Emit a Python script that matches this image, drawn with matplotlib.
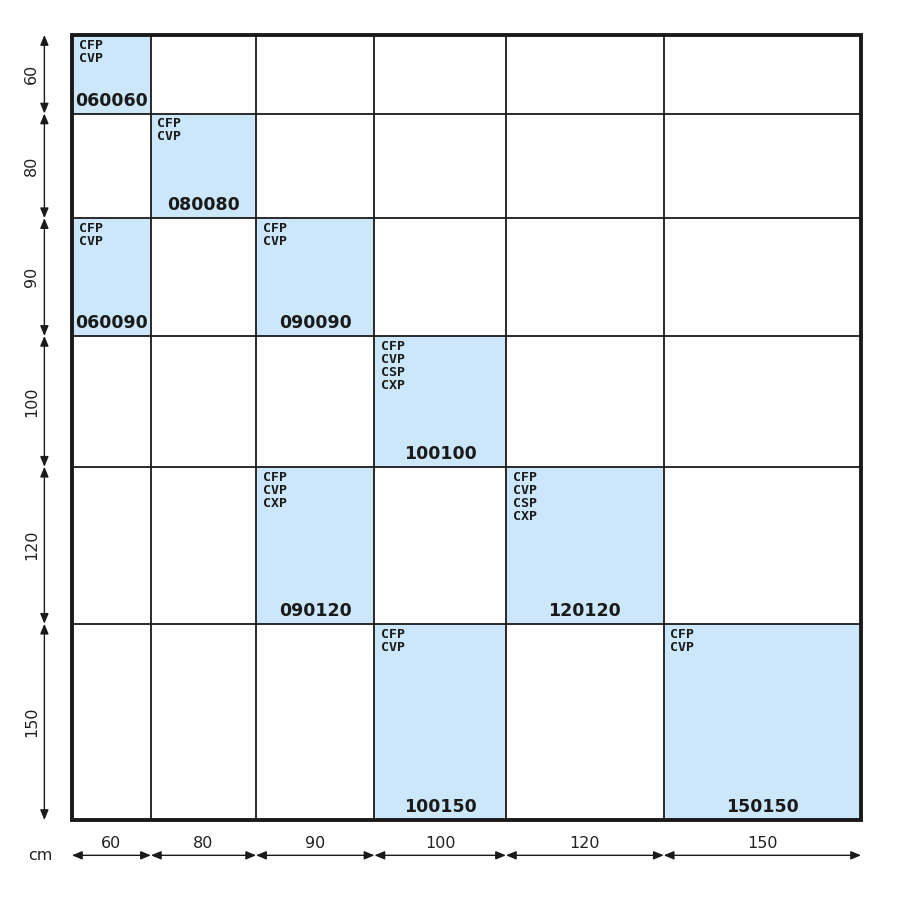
import matplotlib
matplotlib.use("Agg")
import matplotlib.pyplot as plt
import numpy as np

widths = [60, 80, 90, 100, 120, 150]
heights = [60, 80, 90, 100, 120, 150]
cell_w = [60, 80, 60, 90, 100, 90, 120, 100, 150]
cell_h = [60, 80, 90, 90, 100, 120, 120, 150, 150]
cell_types = [["CFP", "CVP"], ["CFP", "CVP"], ["CFP", "CVP"], ["CFP", "CVP"],
              ["CFP", "CVP", "CSP", "CXP"], ["CFP", "CVP", "CXP"],
              ["CFP", "CVP", "CSP", "CXP"], ["CFP", "CVP"], ["CFP", "CVP"]]
codes = ["060060", "080080", "060090", "090090", "100100", "090120", "120120", "100150", "150150"]

fig = plt.figure(figsize=(9, 9), dpi=100)
ax = fig.add_axes([72/900, 1-820/900, 789/900, 785/900])
xe = np.concatenate([[0], np.cumsum(widths)])
ye = np.concatenate([[0], np.cumsum(heights)])
ax.set_xlim(0, xe[-1]); ax.set_ylim(ye[-1], 0)
ax.axis("off")
fill = "#cce7f9"
for w, h, t, c in zip(cell_w, cell_h, cell_types, codes):
    i = widths.index(w); j = heights.index(h)
    x0, x1, y0, y1 = xe[i], xe[i+1], ye[j], ye[j+1]
    ax.add_patch(plt.Rectangle((x0, y0), x1-x0, y1-y0, facecolor=fill, edgecolor="none", zorder=0))
    ax.text(x0+5, y0+3, "\n".join(t), family="DejaVu Sans Mono", fontweight="bold",
            fontsize=9.5, va="top", ha="left", linespacing=1.0, color="#1a1a1a")
    ax.text((x0+x1)/2, y1-3, c, fontweight="bold", fontsize=12.5, ha="center", va="bottom", color="#1a1a1a")
for x in xe[1:-1]:
    ax.plot([x, x], [0, ye[-1]], color="#1a1a1a", lw=1.3, zorder=2)
for y in ye[1:-1]:
    ax.plot([0, xe[-1]], [y, y], color="#1a1a1a", lw=1.3, zorder=2)
ax.add_patch(plt.Rectangle((0, 0), xe[-1], ye[-1], fill=False, edgecolor="#1a1a1a", lw=2.8, zorder=3, clip_on=False))

arr = dict(arrowstyle="<|-|>,head_length=0.6,head_width=0.25", color="#1a1a1a", lw=1, shrinkA=0, shrinkB=0)
ya = 627
for k, w in enumerate(widths):
    ax.annotate("", xy=(xe[k], ya), xytext=(xe[k+1], ya), arrowprops=arr, annotation_clip=False)
    ax.text((xe[k]+xe[k+1])/2, ya-3, str(w), ha="center", va="bottom", fontsize=11.5, color="#222", clip_on=False)
xa = -21
for k, h in enumerate(heights):
    ax.annotate("", xy=(xa, ye[k]), xytext=(xa, ye[k+1]), arrowprops=arr, annotation_clip=False)
    ax.text(xa-4, (ye[k]+ye[k+1])/2, str(h), ha="right", va="center", rotation=90, fontsize=11.5, color="#222", clip_on=False)
ax.text(-24, ya, "cm", ha="center", va="center", fontsize=11.5, color="#222", clip_on=False)
fig.savefig("out.png", dpi=100, facecolor="white")
